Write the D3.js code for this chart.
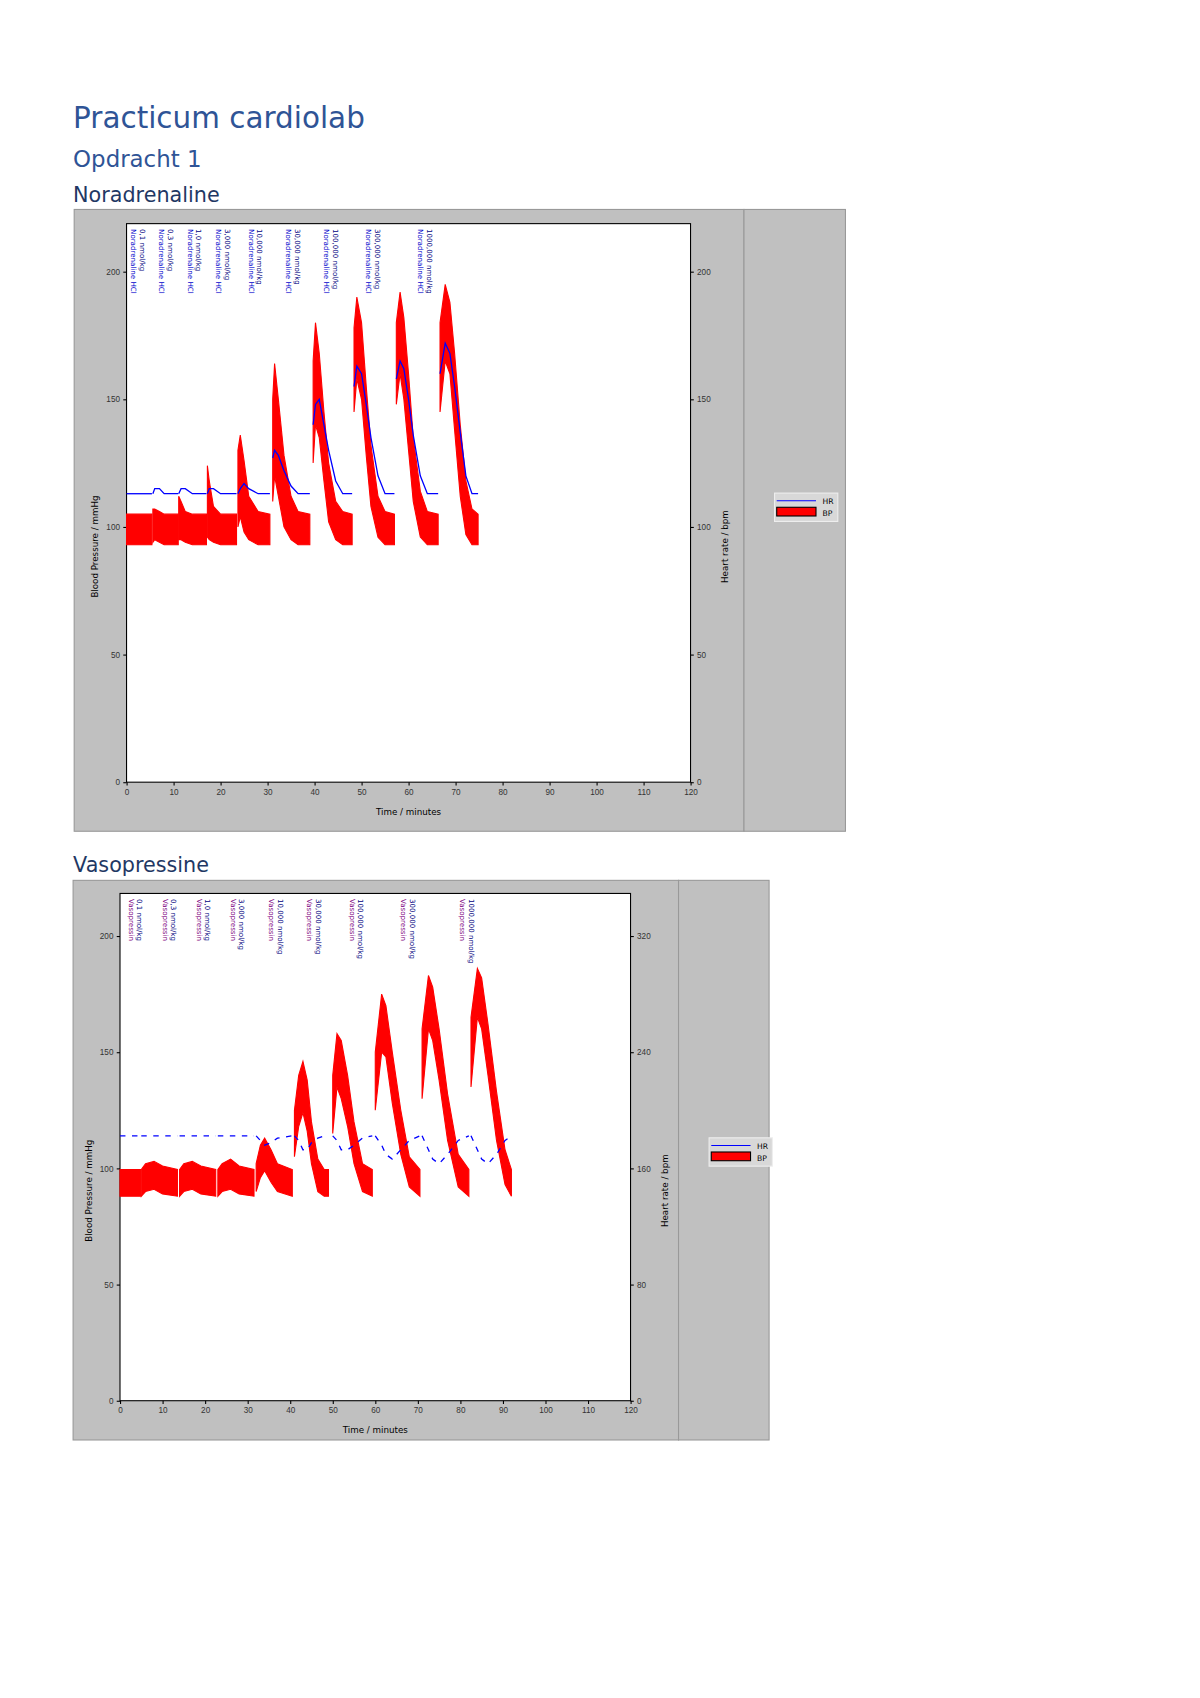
<!DOCTYPE html><html><head><meta charset="utf-8"><script src="https://cdn.jsdelivr.net/npm/d3@7"></script>
<style>body{margin:0;background:#fff;font-family:"DejaVu Sans",sans-serif}</style></head><body><svg id="s" width="1200" height="1698"></svg>
<script>
// ---------- data: Noradrenaline (segments of [time, systolic, diastolic, HR]) ----------
const noraSegments = [
 [[0,105,93,113],[5.4,105,93,113]],
 [[5.6,107,94,113],[6,107,95,115],[7,106,94,115],[8,105,93,113],[11,105,93,113]],
 [[11.1,112,95,113],[11.6,110,95,115],[12.5,106,94,115],[14,105,93,113],[17,105,93,113]],
 [[17.2,124,96,113],[17.6,118,95,115],[18.5,108,94,115],[20,105,93,113],[23.4,105,93,113]],
 [[23.7,130,100,113],[24.2,136,104,115],[25,126,98,117],[26,112,95,115],[28,106,93,113],[30.5,105,93,113]],
 [[31.1,150,110,127],[31.5,164,120,130],[32.3,150,112,128],[33.5,128,100,122],[35,112,95,116],[36.5,106,93,113],[39,105,93,113]],
 [[39.7,165,125,140],[40.2,180,140,148],[41,168,135,150],[42,145,118,140],[43,125,102,130],[44.5,110,95,118],[46,106,93,113],[48,105,93,113]],
 [[48.4,178,145,155],[49,190,158,163],[50,180,150,160],[51,155,128,148],[52,132,108,135],[53.5,112,96,120],[55,106,93,113],[57,105,93,113]],
 [[57.4,180,148,158],[58.2,192,160,165],[59,182,150,162],[60,160,130,150],[61,135,110,136],[62.5,114,96,120],[64,106,93,113],[66.3,105,93,113]],
 [[66.7,180,145,160],[67.8,195,165,172],[68.8,188,160,168],[69.8,168,138,155],[71,140,112,137],[72.2,118,97,120],[73.5,107,93,113],[74.8,105,93,113]]
];
const noraLabels = ["Noradrenaline HCl|0,1 nmol/kg","Noradrenaline HCl|0,3 nmol/kg","Noradrenaline HCl|1,0 nmol/kg","Noradrenaline HCl|3,000 nmol/kg","Noradrenaline HCl|10,000 nmol/kg","Noradrenaline HCl|30,000 nmol/kg","Noradrenaline HCl|100,000 nmol/kg","Noradrenaline HCl|300,000 nmol/kg","Noradrenaline HCl|1000,000 nmol/kg"];
const noraLabelTimes = [1,7,13,19,26,34,42,51,62];
// ---------- data: Vasopressine ----------
const vasoSegments = [
 [[0,99.5,88,114],[4.8,99.5,88,114]],
 [[5,99.5,88,114],[6,102,90,114],[8,103,91,114],[10,101,89,114],[13.5,99.5,88,114]],
 [[14,99.5,88,114],[15,102,90,114],[17,103,91,114],[19,101,89,114],[22.5,99.5,88,114]],
 [[23,99.5,88,114],[24,102,90,114],[26,104,91,114],[28,101,89,114],[31.5,99.5,88,114]],
 [[32,102,90,114],[33,110,96,112],[34,113,99,110],[35.5,108,94,111],[37,102,90,113],[40.5,99.5,88,114]],
 [[41,125,105,114],[42,140,118,112],[43,146,124,108],[44,138,116,108],[45,120,102,111],[46.5,104,90,113],[48,99.5,88,114],[49,99.5,88,114]],
 [[50,140,115,114],[51,158,135,112],[52,155,130,108],[53.5,140,118,108],[55,120,102,110],[57,102,90,113],[59.3,99.5,88,114]],
 [[60,150,125,114],[61.5,175,150,110],[62.5,170,148,106],[64,150,128,104],[66,125,106,108],[68,105,92,112],[70.5,99.5,88,114]],
 [[71,160,130,114],[72.5,183,160,108],[73.5,178,155,104],[75,160,138,102],[77,132,112,106],[79.5,106,92,112],[82,99.5,88,114]],
 [[82.5,165,135,114],[84,186,165,108],[85,182,160,104],[86.5,162,140,102],[88.5,133,112,106],[90.5,108,93,112],[92,99.5,88,114]]
];
const vasoLabels = ["Vasopressin|0,1 nmol/kg","Vasopressin|0,3 nmol/kg","Vasopressin|1,0 nmol/kg","Vasopressin|3,000 nmol/kg","Vasopressin|10,000 nmol/kg","Vasopressin|30,000 nmol/kg","Vasopressin|100,000 nmol/kg","Vasopressin|300,000 nmol/kg","Vasopressin|1000,000 nmol/kg"];
const vasoLabelTimes = [2,10,18,26,35,44,54,66,80];
const xTicks = [0,10,20,30,40,50,60,70,80,90,100,110,120];
const yTicks = [0,50,100,150,200];

const svg = d3.select("#s").append("g").attr("transform","scale(1.0909)");
const head=[["Practicum cardiolab",117,27,"#2f5496"],["Opdracht 1",153,21,"#2f5496"],["Noradrenaline",185,19,"#1f3864"],["Vasopressine",799,19,"#1f3864"]];
head.forEach(h=>svg.append("text").attr("x",67).attr("y",h[1]).attr("font-size",h[2]).attr("fill",h[3]).text(h[0]));

function chart(o){
  const g=svg.append("g");
  g.append("rect").attr("x",o.px).attr("y",o.py).attr("width",o.pw).attr("height",o.ph).attr("fill","#c0c0c0").attr("stroke","#999");
  g.append("rect").attr("x",o.px+o.pw).attr("y",o.py).attr("width",o.lw).attr("height",o.ph).attr("fill","#c0c0c0").attr("stroke","#999");
  const x=d3.scaleLinear().domain([0,120]).range([o.x0,o.x1]);
  const y=d3.scaleLinear().domain([0,200]).range([o.y0,o.y200]);
  const yr=d3.scaleLinear().domain([0,o.rmax]).range([o.y0,o.y200]);
  g.append("rect").attr("x",o.x0).attr("y",o.yt).attr("width",o.x1-o.x0).attr("height",o.y0-o.yt).attr("fill","#fff").attr("stroke","#000");
  const ax=g.append("g").attr("transform",`translate(0,${o.y0})`).call(d3.axisBottom(x).tickValues(xTicks).tickSize(3));
  const al=g.append("g").attr("transform",`translate(${o.x0},0)`).call(d3.axisLeft(y).tickValues(yTicks).tickSize(3));
  const ar=g.append("g").attr("transform",`translate(${o.x1},0)`).call(d3.axisRight(yr).tickValues(o.rticks).tickSize(3));
  [ax,al,ar].forEach(a=>{a.selectAll("text").attr("font-size",7.5).attr("fill","#333");a.select(".domain").remove();});
  g.append("text").attr("x",(o.x0+o.x1)/2).attr("y",o.y0+30).attr("text-anchor","middle").attr("font-size",8).text("Time / minutes");
  g.append("text").attr("transform",`translate(${o.x0-26},${(o.yt+o.y0)/2+40}) rotate(-90)`).attr("text-anchor","middle").attr("font-size",8).text("Blood Pressure / mmHg");
  g.append("text").attr("transform",`translate(${o.x1+34},${(o.yt+o.y0)/2+40}) rotate(-90)`).attr("text-anchor","middle").attr("font-size",8).text("Heart rate / bpm");
  const area=d3.area().x(d=>x(d[0])).y0(d=>y(d[2])).y1(d=>y(d[1]));
  o.segs.forEach(s=>g.append("path").attr("d",area(s)).attr("fill","#ff0000").attr("stroke","#ff0000").attr("stroke-width",1));
  const line=d3.line().x(d=>x(d[0])).y(d=>y(d[3]));
  o.segs.forEach(s=>g.append("path").attr("d",line(s)).attr("fill","none").attr("stroke","#0000ff").attr("stroke-width",1.2).attr("stroke-dasharray",o.dash));
  o.labels.forEach((l,i)=>{
    const parts=l.split("|");
    parts.forEach((p,j)=>g.append("text").attr("transform",`translate(${x(o.ltimes[i])+j*8},${o.yt+5}) rotate(90)`).attr("font-size",6.5).attr("fill",j?"#000080":o.lcol).text(p));
  });
  const lx=o.px+o.pw+28, ly=o.legY;
  g.append("rect").attr("x",lx).attr("y",ly).attr("width",58).attr("height",26).attr("fill","#d8d8d8").attr("stroke","#eee");
  g.append("line").attr("x1",lx+2).attr("x2",lx+38).attr("y1",ly+7).attr("y2",ly+7).attr("stroke","#0000ff");
  g.append("rect").attr("x",lx+2).attr("y",ly+13).attr("width",36).attr("height",8).attr("fill","#ff0000").attr("stroke","#000");
  g.append("text").attr("x",lx+44).attr("y",ly+10).attr("font-size",7).text("HR");
  g.append("text").attr("x",lx+44).attr("y",ly+21).attr("font-size",7).text("BP");
}
chart({px:68,py:192,pw:614,ph:570,lw:93,x0:116,x1:633,yt:205,y0:717,y200:249,rmax:200,rticks:[0,50,100,150,200],segs:noraSegments,labels:noraLabels,ltimes:noraLabelTimes,lcol:"#0000cc",legY:452,dash:null});
chart({px:67,py:807,pw:555,ph:513,lw:83,x0:110,x1:578,yt:819,y0:1284,y200:858,rmax:320,rticks:[0,80,160,240,320],segs:vasoSegments,labels:vasoLabels,ltimes:vasoLabelTimes,lcol:"#800080",legY:1043,dash:"5,6"});
</script></body></html>
